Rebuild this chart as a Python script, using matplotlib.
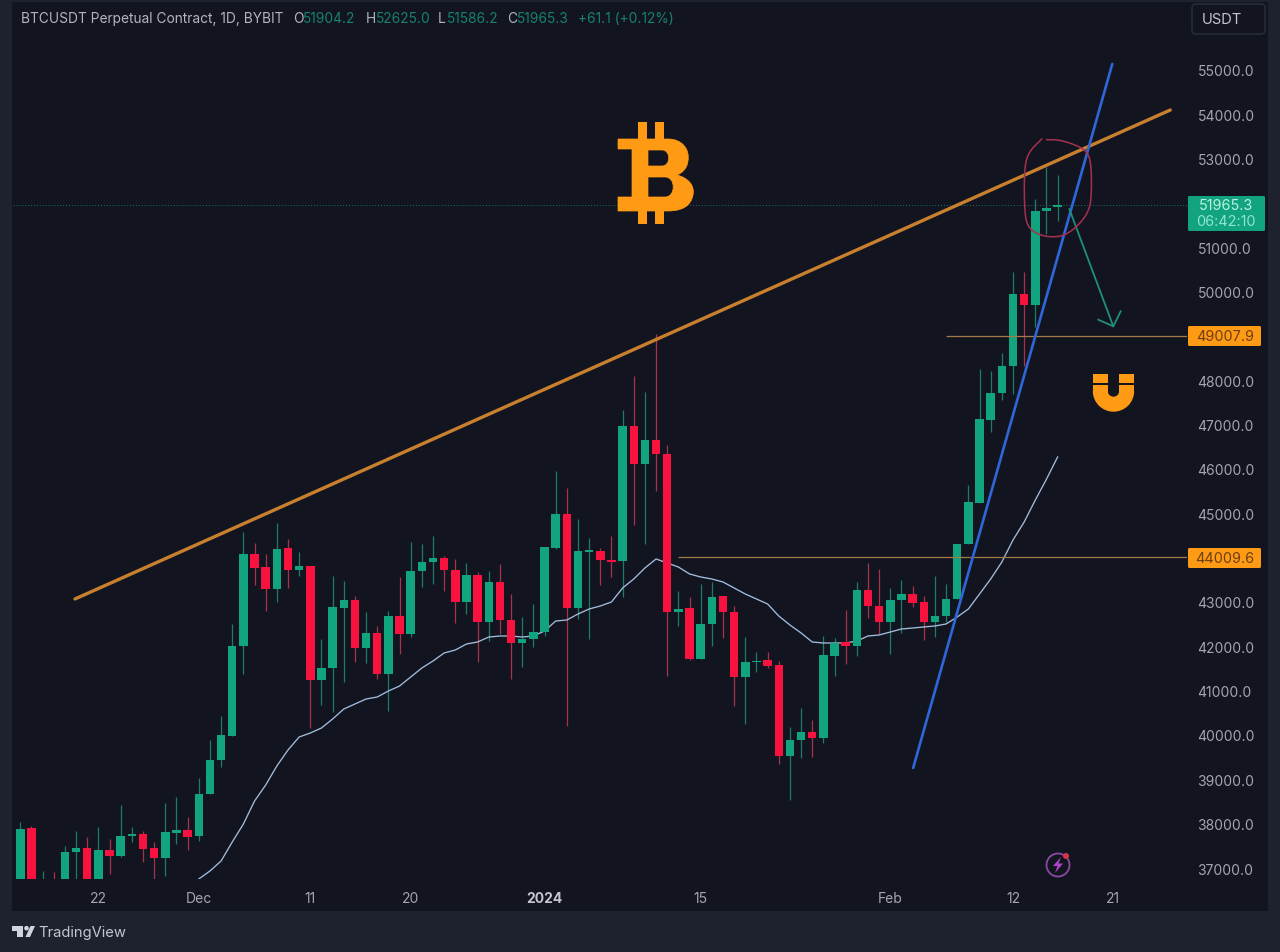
#!/usr/bin/python3
import numpy as np
import matplotlib
matplotlib.use("Agg")
import matplotlib.pyplot as plt
from matplotlib.path import Path
from matplotlib.patches import Rectangle, FancyBboxPatch, Wedge, Polygon, Circle, PathPatch

plt.rcParams["font.family"] = ["Inter", "DejaVu Sans"]

# daily candles, index 0 is 15 Nov 2023
opens = [36500, 37895, 36400, 36650, 36500, 37369, 37451, 36500, 37414, 37278,
         37714, 37775, 37444, 37226, 37790, 37850, 37714, 38669, 39444, 39985,
         42000, 44083, 43782, 43293, 44211, 43722, 43820, 41248, 41519, 42872,
         43045, 41970, 42293, 41376, 42684, 42278, 43692, 43895, 44000, 43722,
         43008, 43617, 42541, 43444, 42587, 42075, 42165, 42316, 44226, 44993,
         42865, 44135, 44150, 43955, 43917, 46963, 46113, 46662, 46331, 42782,
         42857, 41714, 42496, 43128, 42767, 41308, 41647, 41684, 41587, 39534,
         39895, 40075, 39925, 41790, 42090, 42008, 43271, 42902, 42541, 43045,
         43173, 42993, 42541, 42677, 43068, 44301, 45233, 47113, 47714, 48316,
         49955, 49699, 51820, 51904.2]
highs = [38030, 37955, 36940, 36902, 37504, 37842, 37692, 37917, 37654, 38421,
         37917, 37842, 37579, 38466, 38594, 38143, 39023, 39895, 40436, 42504,
         44572, 44331, 44083, 44782, 44421, 44136, 43820, 42166, 43594, 43481,
         43143, 42782, 42466, 42805, 43557, 44361, 44308, 44496, 44045, 43970,
         43880, 43669, 43707, 43857, 43181, 42654, 42955, 44233, 45963, 45564,
         44872, 44436, 44211, 44496, 47331, 48105, 47745, 49045, 46542, 43256,
         43105, 43406, 43459, 43128, 42917, 42203, 41880, 41865, 41677, 40173,
         40602, 40346, 42226, 42181, 42827, 43444, 43880, 43744, 43308, 43504,
         43369, 43128, 43579, 43406, 44308, 45639, 48256, 48218, 48617, 50436,
         50436, 52090, 52805, 52625.0]
lows = [36400, 36400, 36300, 36300, 36400, 36752, 36400, 36400, 36865, 37241,
        37579, 37128, 36752, 36827, 37541, 37414, 37617, 38669, 39271, 39985,
        41376, 43384, 42805, 42993, 43309, 43579, 40150, 40677, 40511, 41188,
        41654, 41624, 41263, 40549, 41827, 42203, 43331, 43406, 43256, 42526,
        42729, 41654, 42128, 42278, 41263, 41527, 41978, 42241, 44196, 40196,
        42617, 42165, 43384, 43557, 43105, 44737, 44308, 45511, 41323, 42451,
        41699, 41714, 42015, 42181, 40662, 40248, 41414, 41504, 39346, 38534,
        39474, 39496, 39820, 41338, 41602, 41775, 42632, 42278, 41827, 42301,
        42880, 42150, 42203, 42556, 43068, 44301, 45233, 46842, 47564, 47692,
        48316, 49196, 51301, 51586.2]
closes = [37880, 36500, 36650, 36450, 37369, 37451, 36500, 37414, 37278, 37714,
          37775, 37429, 37226, 37805, 37850, 37699, 38677, 39444, 40000, 42008,
          44083, 43775, 43293, 44203, 43722, 43812, 41248, 41519, 42880, 43045,
          41970, 42293, 41376, 42684, 42278, 43700, 43895, 44000, 43722, 43008,
          43617, 42541, 43444, 42587, 42075, 42165, 42316, 44233, 44993, 42865,
          44150, 44150, 43947, 43910, 46963, 46113, 46662, 46331, 42782, 42842,
          41714, 42496, 43113, 42767, 41308, 41647, 41677, 41549, 39534, 39895,
          40075, 39925, 41797, 42075, 42000, 43271, 42902, 42541, 43053, 43173,
          42978, 42541, 42677, 43068, 44308, 45248, 47128, 47714, 48324, 49955,
          49699, 51827, 51895, 51965.3]

# moving average, starts at index 16
ma_start = 16
ma_values = [36752, 36932, 37158, 37586, 37992, 38511, 38872, 39301, 39662, 39955,
             40045, 40158, 40361, 40586, 40699, 40812, 40857, 40992, 41105, 41308,
             41511, 41669, 41850, 41917, 42052, 42098, 42210, 42233, 42233, 42210,
             42233, 42346, 42571, 42594, 42729, 42842, 42910, 43000, 43316, 43519,
             43767, 43970, 43880, 43789, 43632, 43564, 43519, 43451, 43316, 43180,
             43068, 42955, 42684, 42481, 42301, 42098, 42075, 42075, 42075, 42120,
             42233, 42256, 42323, 42391, 42413, 42436, 42459, 42504, 42662, 42842,
             43180, 43519, 43902, 44398, 44804, 45300, 45770, 46271]

# drawings on the chart: (day index, price)
orange_trend_x = [4.9, 103.1]
orange_trend_y = [43068, 54097]
blue_trend_x = [80.05, 97.9]
blue_trend_y = [39256, 55135]
level_upper = 49007.9
level_lower = 44009.6
level_upper_start = 83
level_lower_start = 59
last_price = 51965.3

x_tick_pos = [7, 16, 26, 35, 47, 61, 78, 89, 98]
x_tick_labels = ["22", "Dec", "11", "20", "2024", "15", "Feb", "12", "21"]
y_tick_pos = [37000, 38000, 39000, 40000, 41000, 42000, 43000, 45000, 46000,
              47000, 48000, 50000, 51000, 53000, 54000, 55000]

OUTER = "#1e222e"
PANEL = "#121520"
GREEN = "#12a37f"
RED = "#f8123f"
GREEN_WICK = "#1d7c69"
RED_WICK = "#a8324a"
ORANGE = "#ff9a14"
GREY = "#a3a6af"
DIM_GREEN = "#16826c"


def px_axes(fig, zorder):
    a = fig.add_axes([0, 0, 1, 1], zorder=zorder)
    a.set_xlim(0, 1280)
    a.set_ylim(953, 0)
    a.axis("off")
    return a


def smooth(points, rounds=3):
    pts = np.array(points, dtype=float)
    for _ in range(rounds):
        q = 0.75 * pts[:-1] + 0.25 * pts[1:]
        r = 0.25 * pts[:-1] + 0.75 * pts[1:]
        pts = np.vstack([pts[0], np.column_stack([q, r]).reshape(-1, 2), pts[-1]])
    return pts


def bitcoin_path():
    M, L, C, Z = Path.MOVETO, Path.LINETO, Path.CURVE4, Path.CLOSEPOLY
    verts = [(618, 140), (668, 140),
             (682, 140), (690, 150), (688, 162),
             (687, 170), (682, 174), (677, 176),
             (688, 179), (695, 186), (693, 196),
             (691, 207), (682, 212), (668, 212),
             (618, 212), (618, 198), (632, 198), (632, 150), (618, 150), (618, 140)]
    codes = [M, L, C, C, C, C, C, C, C, C, C, C, C, C, L, L, L, L, L, Z]
    # counters of the B, wound the other way
    verts += [(648, 151), (648, 167), (662, 167),
              (671, 167), (671, 151), (662, 151), (648, 151)]
    codes += [M, L, L, C, C, C, Z]
    verts += [(648, 178), (648, 198), (665, 198),
              (676, 198), (676, 178), (665, 178), (648, 178)]
    codes += [M, L, L, C, C, C, Z]
    return Path(verts, codes)


def main():
    fig = plt.figure(figsize=(12.8, 9.53), dpi=100, facecolor=OUTER)

    bg = px_axes(fig, 0)
    bg.add_patch(Rectangle((12, 3), 1256, 909, color=PANEL, lw=0))

    # price pane, pixels x 13-1187, y 3-880
    ax = fig.add_axes([13 / 1280, (953 - 880) / 953, 1174 / 1280, 877 / 953], zorder=1)
    ax.patch.set_alpha(0)
    for s in ax.spines.values():
        s.set_visible(False)
    ax.set_xlim(-0.655, 104.6)
    ax.set_ylim(36752, 56533)

    idx = np.arange(len(opens))
    o = np.array(opens)
    c = np.array(closes)
    up = c >= o
    colors = np.where(up, GREEN, RED)
    wick_colors = np.where(up, GREEN_WICK, RED_WICK)

    ax.axhline(last_price, color="#1fae8c", lw=0.7, ls=(0, (1, 2)), alpha=0.6, zorder=1)
    ax.vlines(idx, lows, highs, colors=wick_colors, lw=0.9, zorder=2)
    ax.plot(np.arange(len(ma_values)) + ma_start, ma_values, color="#a3bcdc", lw=0.95, zorder=3)
    heights = np.maximum(np.abs(c - o), 32)
    ax.bar(idx, heights, bottom=np.minimum(o, c), width=0.76, color=colors, lw=0, zorder=4)

    ax.hlines(level_upper, level_upper_start, 104.6, color="#a57a48", lw=0.9, zorder=5)
    ax.hlines(level_lower, level_lower_start, 104.6, color="#a57a48", lw=0.9, zorder=5)
    ax.plot(orange_trend_x, orange_trend_y, color="#c8802f", lw=2.4,
            solid_capstyle="round", zorder=6)
    ax.plot(blue_trend_x, blue_trend_y, color="#2f66d8", lw=1.9,
            solid_capstyle="round", zorder=7)

    ax.set_xticks(x_tick_pos)
    ax.set_xticklabels(x_tick_labels)
    ax.set_yticks(y_tick_pos)
    ax.set_yticklabels(["%.1f" % v for v in y_tick_pos])
    ax.yaxis.tick_right()
    ax.tick_params(axis="x", length=0, pad=9, labelsize=10, labelcolor=GREY)
    ax.tick_params(axis="y", length=0, pad=7.5, labelsize=10, labelcolor=GREY)
    for lab in ax.get_xticklabels():
        if lab.get_text() == "2024":
            lab.set_fontweight("bold")
            lab.set_color("#c3c6ce")

    ov = px_axes(fig, 2)

    # header line
    header = [(21, "BTCUSDT Perpetual Contract, 1D, BYBIT", "#b2b5be"),
              (293, "O", "#b2b5be"), (303, "51904.2", DIM_GREEN),
              (366, "H", "#b2b5be"), (376, "52625.0", DIM_GREEN),
              (438, "L", "#b2b5be"), (447, "51586.2", DIM_GREEN),
              (507, "C", "#b2b5be"), (517, "51965.3", DIM_GREEN),
              (578, "+61.1 (+0.12%)", DIM_GREEN)]
    for x, s, col in header:
        ov.text(x, 19, s, color=col, fontsize=9.9, ha="left", va="center")

    # currency button
    ov.add_patch(FancyBboxPatch((1192, 5), 73, 30, boxstyle="round,pad=0,rounding_size=4",
                                fc="none", ec="#2b2f3b", lw=1))
    ov.text(1221.5, 19.5, "USDT", color="#c3c6ce", fontsize=10.6, ha="center", va="center")

    # price tags
    ov.add_patch(FancyBboxPatch((1188, 197), 77, 35, boxstyle="round,pad=0,rounding_size=1.5",
                                fc=GREEN, lw=0))
    ov.text(1226, 206.5, "51965.3", color="#b9f2e2", fontsize=10.4, ha="center", va="center")
    ov.text(1226, 222.5, "06:42:10", color="#8fe5ce", fontsize=10.4, ha="center", va="center")
    for y, s in [(337, "49007.9"), (559, "44009.6")]:
        ov.add_patch(FancyBboxPatch((1188, y - 10), 73, 20, boxstyle="round,pad=0,rounding_size=1.5",
                                    fc=ORANGE, lw=0))
        ov.text(1225, y + 0.3, s, color="#6e3f12", fontsize=10.4, ha="center", va="center")

    # green arrow
    ov.plot([1069.3, 1113.3], [210, 327.3], color="#1f8f7b", lw=1.3, solid_capstyle="round")
    ov.plot([1098.3, 1113.3, 1120.7], [320.7, 327.3, 312.3], color="#1f8f7b", lw=1.3,
            solid_joinstyle="miter")

    # red hand drawn ring
    ring = smooth([(1046.7, 140.7), (1058.3, 140.7), (1073.3, 145), (1086.7, 151.7), (1091, 163.3),
                   (1091.7, 190), (1090, 210), (1080, 225), (1065, 236.7), (1050, 238.3),
                   (1036.7, 235), (1026.7, 226.7), (1024.3, 206.7), (1024.3, 170), (1028.3, 153.3),
                   (1041.7, 140)])
    ov.plot(ring[:, 0], ring[:, 1], color="#a8304e", lw=1.1)

    # bitcoin sign
    for x0 in (638, 655):
        ov.add_patch(Rectangle((x0, 123), 8.5, 18, color=ORANGE, lw=0))
        ov.add_patch(Rectangle((x0, 211), 8.5, 14, color=ORANGE, lw=0))
    ov.add_patch(PathPatch(bitcoin_path(), fc=ORANGE, ec=ORANGE, lw=0.5))

    # magnet
    ov.add_patch(Wedge((1113.5, 392), 20.7, 0, 180, width=15, color=ORANGE, lw=0))
    for x0 in (1093, 1119):
        ov.add_patch(Rectangle((x0, 385.5), 15, 7, color=ORANGE, lw=0))
        ov.add_patch(Rectangle((x0, 375), 15, 8.5, color=ORANGE, lw=0))

    # bolt badge
    ov.add_patch(Circle((1058, 866), 11.5, fc="none", ec="#8a4aa0", lw=1.3))
    ov.add_patch(Polygon([(1061, 858), (1053, 867), (1057.5, 867), (1055, 874), (1063, 864.5),
                          (1058.5, 864.5)], color="#b044c8", lw=0))
    ov.add_patch(Circle((1066, 857), 3, color="#d8344a", lw=0))

    # footer logo
    ov.add_patch(Rectangle((12, 927), 11, 4.5, color="#d1d4dc", lw=0))
    ov.add_patch(Rectangle((17, 931), 6, 7, color="#d1d4dc", lw=0))
    ov.add_patch(Circle((26.5, 929.2), 2.3, color="#d1d4dc", lw=0))
    ov.add_patch(Polygon([(25.5, 938), (30.5, 927), (35, 927), (30, 938)], color="#d1d4dc", lw=0))
    ov.text(38.5, 933.5, "TradingView", color="#c3c6ce", fontsize=10.6, ha="left", va="center")

    fig.savefig("out.png", dpi=100, facecolor=OUTER)


if __name__ == "__main__":
    main()
